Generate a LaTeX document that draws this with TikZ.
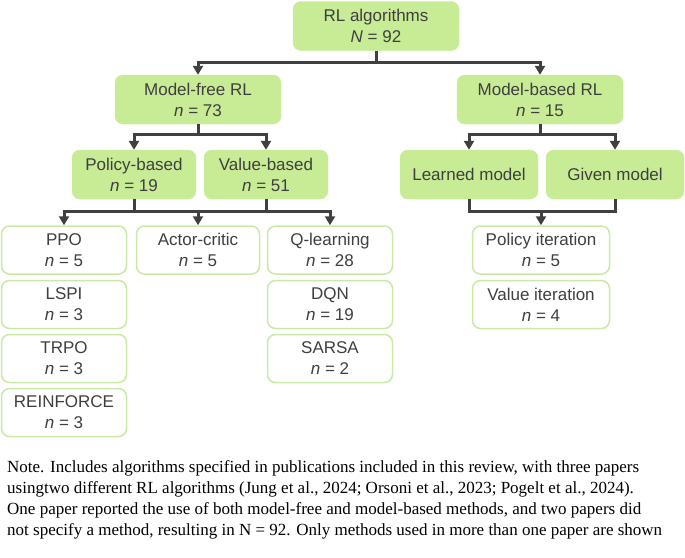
\documentclass[tikz,border=0pt]{standalone}
\usepackage{fontspec}
\setmainfont{Liberation Sans}
\newfontfamily\notefont{Liberation Serif}
\usetikzlibrary{arrows.meta}
\definecolor{boxgreen}{HTML}{C8EC96}
\definecolor{edgegreen}{HTML}{C9EAA6}
\definecolor{linegray}{HTML}{404040}
\definecolor{txtgray}{HTML}{3F3F3F}
\begin{document}
\begin{tikzpicture}[x=1pt,y=-1pt,
  catbox/.style={rounded corners=8pt, fill=boxgreen, draw=boxgreen, text=txtgray,
    align=center, minimum height=49pt, inner sep=0pt,
    font=\fontsize{17}{21}\selectfont},
  leafbox/.style={rounded corners=8pt, fill=white, draw=edgegreen, line width=1.5pt,
    text=txtgray, align=center, minimum height=48pt, inner sep=0pt,
    font=\fontsize{17}{21}\selectfont},
  conn/.style={draw=linegray, line width=3pt, line join=miter},
  arr/.style={conn, -{Triangle[length=9pt,width=10pt]}},
  noteline/.style={anchor=base west, inner sep=0pt, text=black,
    font=\notefont\fontsize{17}{21}\selectfont}
]
\useasboundingbox (0,0) rectangle (685,557);

% top levels
\node[catbox, minimum width=166pt] (rl) at (376,26) {RL algorithms\\\textit{N} = 92};
\node[catbox, minimum width=166pt] (mf) at (198,99.5) {Model-free RL\\\textit{n} = 73};
\node[catbox, minimum width=166pt] (mb) at (540,99.5) {Model-based RL\\\textit{n} = 15};
\node[catbox, minimum width=124pt] (pb) at (134,174.5) {Policy-based\\\textit{n} = 19};
\node[catbox, minimum width=124pt] (vb) at (266,174.5) {Value-based\\\textit{n} = 51};
\node[catbox, minimum width=138pt] (lm) at (469,174.5) {Learned model};
\node[catbox, minimum width=138pt] (gm) at (615,174.5) {Given model};

% leaves
\node[leafbox, minimum width=125pt] (ppo) at (64,250) {PPO\\\textit{n} = 5};
\node[leafbox, minimum width=125pt] (lspi) at (64,304.5) {LSPI\\\textit{n} = 3};
\node[leafbox, minimum width=125pt] (trpo) at (64,358.5) {TRPO\\\textit{n} = 3};
\node[leafbox, minimum width=125pt] (rein) at (64,412.5) {REINFORCE\\\textit{n} = 3};
\node[leafbox, minimum width=123pt] (ac) at (198,250) {Actor-critic\\\textit{n} = 5};
\node[leafbox, minimum width=125pt] (ql) at (330,250) {Q-learning\\\textit{n} = 28};
\node[leafbox, minimum width=125pt] (dqn) at (330,304.5) {DQN\\\textit{n} = 19};
\node[leafbox, minimum width=125pt] (sarsa) at (330,358.5) {SARSA\\\textit{n} = 2};
\node[leafbox, minimum width=137pt] (pi) at (541,250) {Policy iteration\\\textit{n} = 5};
\node[leafbox, minimum width=137pt] (vi) at (541,304.5) {Value iteration\\\textit{n} = 4};

% connectors
\draw[conn] (rl.south) -- (376,62) coordinate (j1);
\draw[arr] (j1) -| (mf.north);
\draw[arr] (j1) -| (mb.north);

\draw[conn] (mf.south) -- (198,134) coordinate (j2);
\draw[arr] (j2) -| (pb.north);
\draw[arr] (j2) -| (vb.north);

\draw[conn] (mb.south) -- (540,134) coordinate (j3);
\draw[arr] (j3) -| (lm.north);
\draw[arr] (j3) -| (gm.north);

\coordinate (j4) at (198,211);
\draw[arr] (pb.south) |- (ppo.north |- j4) -- (ppo.north);
\draw[arr] (vb.south) |- (ql.north |- j4) -- (ql.north);
\draw[conn] (pb.south |- j4) -- (vb.south |- j4);
\draw[arr] (j4) -- (ac.north);

\coordinate (j5) at (541,211);
\draw[conn] (lm.south) |- (j5) -| (gm.south);
\draw[arr] (j5) -- (pi.north);

% note
\node[noteline] (n1) at (7,472) {Note. Includes algorithms specified in publications included in this review, with three papers};
\node[noteline] (n2) at (7,493) {usingtwo different RL algorithms (Jung et al., 2024; Orsoni et al., 2023; Pogelt et al., 2024).};
\node[noteline] (n3) at (7,514) {One paper reported the use of both model-free and model-based methods, and two papers did};
\node[noteline] (n4) at (7,535) {not specify a method, resulting in N = 92. Only methods used in more than one paper are shown};
\end{tikzpicture}
\end{document}
